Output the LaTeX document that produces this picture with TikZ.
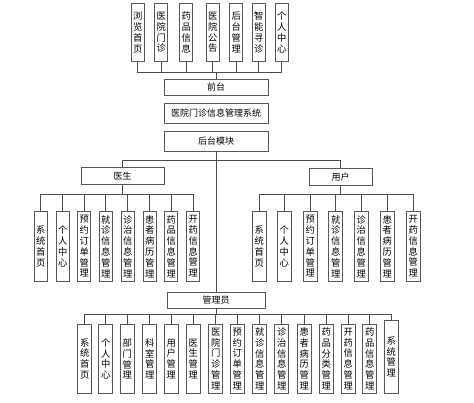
\documentclass[tikz,border=0pt]{standalone}
\usepackage{fontspec}
\newfontfamily\cjk{Noto Sans CJK SC}
\begin{document}
\begin{tikzpicture}[x=1pt,y=-1pt,
  vcell/.style={draw=black!65, line width=0.8pt, fill=white, minimum width=13pt,
    inner sep=0pt, align=center, text width=9pt, anchor=north,
    font=\cjk\fontsize{9.3}{10.8}\selectfont},
  hcell/.style={draw=black!65, line width=0.8pt, fill=white, inner sep=0pt,
    align=center, font=\cjk\fontsize{9}{10.8}\selectfont},
  link/.style={draw=black!70, line width=0.6pt}]
\fill[white] (0,0) rectangle (474,403);
% ---------- top row ----------
\foreach \n/\x/\t in {t1/137.5/{浏\\览\\首\\页}, t2/161/{医\\院\\门\\诊}, t3/186/{药\\品\\信\\息},
  t4/212.5/{医\\院\\公\\告}, t5/236/{后\\台\\管\\理}, t6/258.5/{智\\能\\寻\\诊}, t7/281.5/{个\\人\\中\\心}}
  \node[vcell, minimum height=58pt] (\n) at (\x,3) {\t};
\node[hcell, minimum width=104pt, minimum height=16pt] (qt) at (216,87) {前台};
\node[hcell, minimum width=104pt, minimum height=20pt] (sys) at (216,113) {医院门诊信息管理系统};
\node[hcell, minimum width=104pt, minimum height=20pt] (ht) at (216,141) {后台模块};
\coordinate (busT) at (216,72);
\foreach \n in {t1,t2,t3,t4,t5,t6,t7} \draw[link] (\n.south) |- (busT);
\draw[link] (busT) -- (qt.north);
% ---------- main level ----------
\coordinate (mainbus) at (216,160);
\node[hcell, minimum width=83pt, minimum height=17pt] (doc) at (122.5,176) {医生};
\node[hcell, minimum width=63pt, minimum height=17pt] (usr) at (340.5,177) {用户};
\node[hcell, minimum width=98pt, minimum height=16pt] (adm) at (216,300) {管理员};
\draw[link] (ht.south) -- (adm.north);
\draw[link] (doc.north) |- (mainbus);
\draw[link] (usr.north) |- (mainbus);
% ---------- doctor ----------
\coordinate (docbus) at (122.5,194);
\draw[link] (doc.south) -- (docbus);
\foreach \n/\x/\t in {d1/40.5/{系\\统\\首\\页}, d2/62.5/{个\\人\\中\\心}, d3/84/{预\\约\\订\\单\\管\\理},
  d4/105.5/{就\\诊\\信\\息\\管\\理}, d5/127.5/{诊\\治\\信\\息\\管\\理}, d6/149.5/{患\\者\\病\\历\\管\\理},
  d7/171/{药\\品\\信\\息\\管\\理}, d8/193/{开\\药\\信\\息\\管\\理}}
{
  \node[vcell, minimum height=70pt] (\n) at (\x,211) {\t};
  \draw[link] (\n.north) |- (docbus);
}
% ---------- user ----------
\coordinate (usrbus) at (340.5,194);
\draw[link] (usr.south) -- (usrbus);
\foreach \n/\x/\t in {u1/259/{系\\统\\首\\页}, u2/284/{个\\人\\中\\心}, u3/310/{预\\约\\订\\单\\管\\理},
  u4/335.5/{就\\诊\\信\\息\\管\\理}, u5/361/{诊\\治\\信\\息\\管\\理}, u6/387/{患\\者\\病\\历\\管\\理},
  u7/413/{开\\药\\信\\息\\管\\理}}
{
  \node[vcell, minimum width=14pt, minimum height=70pt] (\n) at (\x,211) {\t};
  \draw[link] (\n.north) |- (usrbus);
}
% ---------- admin ----------
\coordinate (admbus) at (216,314);
\draw[link] (adm.south) -- (admbus);
\foreach \n/\x/\t in {a1/84.5/{系\\统\\首\\页}, a2/105.5/{个\\人\\中\\心}, a3/127/{部\\门\\管\\理},
  a4/149.5/{科\\室\\管\\理}, a5/171/{用\\户\\管\\理}, a6/193/{医\\生\\管\\理},
  a7/215.5/{医\\院\\门\\诊\\管\\理}, a8/237/{预\\约\\订\\单\\管\\理}, a9/259.5/{就\\诊\\信\\息\\管\\理},
  a10/281.5/{诊\\治\\信\\息\\管\\理}, a11/304/{患\\者\\病\\历\\管\\理}, a12/326/{药\\品\\分\\类\\管\\理},
  a13/348/{开\\药\\信\\息\\管\\理}, a14/369.5/{药\\品\\信\\息\\管\\理}}
{
  \node[vcell, minimum width=14pt, minimum height=69pt] (\n) at (\x,324) {\t};
  \draw[link] (\n.north) |- (admbus);
}
\node[vcell, minimum width=14pt, minimum height=73pt] (a15) at (391,320) {系\\统\\管\\理};
\draw[link] (a15.north) |- (admbus);
\end{tikzpicture}
\end{document}
